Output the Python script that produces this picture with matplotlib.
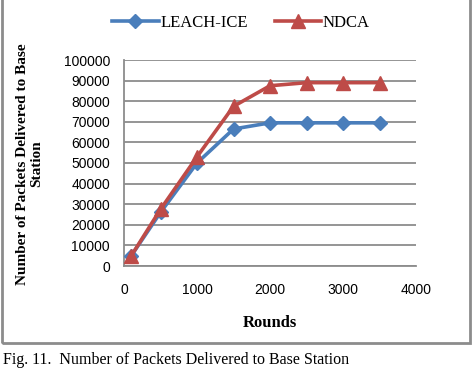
import matplotlib
matplotlib.use("Agg")
import matplotlib.pyplot as plt
from matplotlib.patches import Rectangle

rounds = [100, 500, 1000, 1500, 2000, 2500, 3000, 3500]
leach_ice = [5000, 26000, 50000, 66500, 69500, 69500, 69500, 69500]
ndca = [5000, 27500, 53000, 77500, 87500, 89000, 89000, 89000]

x_ticks = [0, 1000, 2000, 3000, 4000]
y_ticks = list(range(0, 100001, 10000))

blue = "#4A7EBB"
red = "#BE4B48"
grid = "#8C8C8C"
serif = "Liberation Serif"
sans = "Liberation Sans"

fig = plt.figure(figsize=(4.74, 3.69), dpi=100)
ax = fig.add_axes([124 / 474, 1 - 266 / 369, 292 / 474, 206 / 369])

ax.plot(rounds, leach_ice, color=blue, lw=2.6, marker="D", ms=7, label="LEACH-ICE",
        clip_on=False, zorder=3)
ax.plot(rounds, ndca, color=red, lw=2.6, marker="^", ms=10, label="NDCA",
        clip_on=False, zorder=4)

ax.set_xlim(0, 4000)
ax.set_ylim(0, 100000)
ax.set_xticks(x_ticks)
ax.set_yticks(y_ticks)
ax.set_xticklabels([str(v) for v in x_ticks], fontfamily=sans, fontsize=10)
ax.set_yticklabels([str(v) for v in y_ticks], fontfamily=sans, fontsize=10)
ax.tick_params(length=0, pad=10)
ax.tick_params(axis="x", pad=12)
ax.yaxis.grid(True, color=grid, lw=1.3)
ax.set_axisbelow(True)
for side in ["top", "right"]:
    ax.spines[side].set_visible(False)
for side in ["left", "bottom"]:
    ax.spines[side].set_color(grid)
    ax.spines[side].set_linewidth(1.3)

ax.set_xlabel("Rounds", fontfamily=serif, fontweight="bold", fontsize=12, labelpad=13)
fig.text(30 / 474, 1 - 164 / 369, "Number of Packets Delivered to Base\nStation",
         rotation=90, ha="center", va="center", fontfamily=serif, fontweight="bold",
         fontsize=11, linespacing=1.1)

leg = fig.legend(loc="center", bbox_to_anchor=(241 / 474, 1 - 23 / 369), ncol=2,
                 frameon=False, prop={"family": serif, "size": 12},
                 handlelength=2.8, handletextpad=0.1, columnspacing=1.6)

# outer chart frame
fig.patches.append(Rectangle((2 / 474, 1 - 343 / 369), 468 / 474, 343 / 369 + 0.02,
                             transform=fig.transFigure, fill=False,
                             edgecolor="#8C8C8C", lw=2))

fig.text(3 / 474, 1 - 368 / 369, "Fig. 11.  Number of Packets Delivered to Base Station",
         fontfamily=serif, fontsize=11.5, ha="left", va="bottom")

fig.savefig("out.png", dpi=100)
